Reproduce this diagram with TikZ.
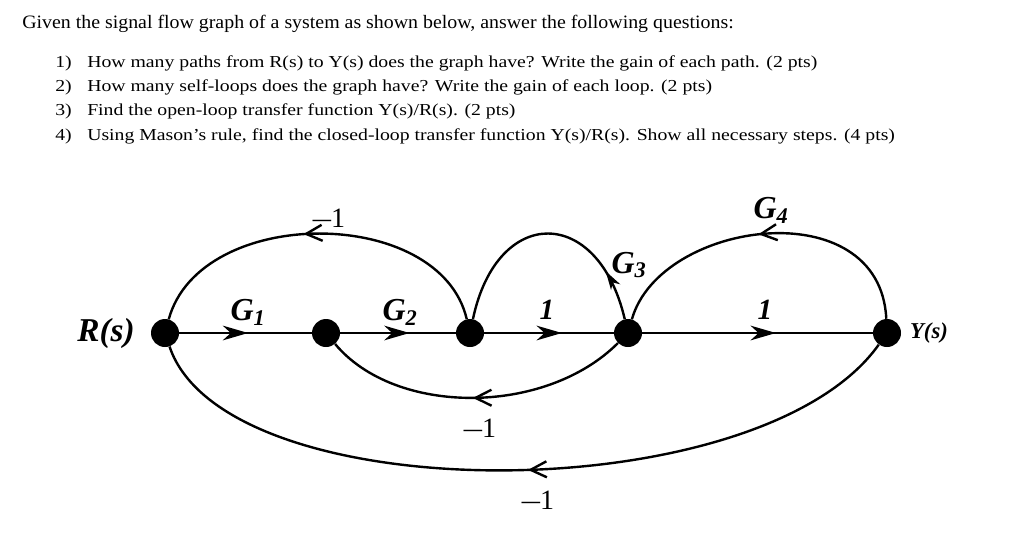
\documentclass[tikz,border=0pt]{standalone}
\usepackage{fontspec}
\setmainfont{Liberation Serif}
\newfontfamily\headfont[FakeStretch=1.05]{Liberation Serif}
\newfontfamily\qfont[FakeStretch=1.18]{Liberation Serif}
\usetikzlibrary{arrows.meta,decorations.markings}

\begin{document}
\begin{tikzpicture}[x=0.75pt,y=-0.75pt]
	\tikzstyle{vertex} = [circle, fill=black, minimum size=21pt, inner sep=0pt]
	\tikzstyle{branch} = [line width=1.8pt]
	\tikzstyle{gain} = [inner sep=0pt, font=\fontsize{24}{24}\selectfont\bfseries\itshape]
	\tikzstyle{unity} = [inner sep=0pt, font=\fontsize{22}{22}\selectfont\bfseries\itshape]
	\tikzstyle{neg} = [inner sep=0pt, font=\fontsize{21}{21}\selectfont]
	\tikzstyle{question} = [anchor=base west, inner sep=0pt, font=\qfont\fontsize{12.55}{14}\selectfont]
	\tikzset{
		flow/.style={branch, postaction={decorate}, decoration={markings,
			mark=at position #1 with {\arrow{Stealth[length=19pt,width=11pt,inset=6pt]}}}},
		back/.style={branch, postaction={decorate}, decoration={markings,
			mark=at position #1 with {\arrow[line width=1.8pt]{Straight Barb[length=12pt,width=12pt]}}}},
		feed/.style={branch, postaction={decorate}, decoration={markings,
			mark=at position #1 with {\arrow{Stealth[length=14pt,width=8pt,inset=4pt]}}}}
	}
	\useasboundingbox (0,0) rectangle (1021,543);

%----------Questions------------------------------
	\node[anchor=base west, inner sep=0pt, font=\headfont\fontsize{14.2}{16}\selectfont] (title) at (22,28)
		{Given the signal flow graph of a system as shown below, answer the following questions:};
	\node[question] (q1) at (55,67) {\makebox[24pt][l]{1)}How many paths from R(s) to Y(s) does the graph have? Write the gain of each path. (2 pts)};
	\node[question] (q2) at (55,91) {\makebox[24pt][l]{2)}How many self-loops does the graph have? Write the gain of each loop. (2 pts)};
	\node[question] (q3) at (55,115) {\makebox[24pt][l]{3)}Find the open-loop transfer function Y(s)/R(s). (2 pts)};
	\node[question] (q4) at (55,140) {\makebox[24pt][l]{4)}Using Mason’s rule, find the closed-loop transfer function Y(s)/R(s). Show all necessary steps. (4 pts)};

%----------Graph nodes------------------------------
	\node[vertex] (R) at (165,333) {};
	\node[vertex] (x1) at (326,333) {};
	\node[vertex] (x2) at (470,333) {};
	\node[vertex] (x3) at (628,333) {};
	\node[vertex] (Y) at (887,333) {};

	\node[inner sep=0pt, font=\fontsize{25}{25}\selectfont\bfseries\itshape] (lR) at (106,333) {R(s)};
	\node[inner sep=0pt, font=\fontsize{17}{17}\selectfont\bfseries\itshape] (lY) at (929,333) {Y(s)};

%----------Forward branches------------------------------
	\draw[flow=0.52] (R) -- (x1);
	\draw[flow=0.6] (x1) -- (x2);
	\draw[flow=0.6] (x2) -- (x3);
	\draw[flow=0.58] (x3) -- (Y);

	\node[gain] (g1) at (248,312) {G\textsubscript{1}};
	\node[gain] (g2) at (400,312) {G\textsubscript{2}};
	\node[unity] (u1) at (547,310) {1};
	\node[unity] (u2) at (765,310) {1};

%----------Feedback branches------------------------------
	\draw[back=0.54] (x2) .. controls (440,205) and (200,205) .. (R);
	\draw[feed=0.21] (x3) .. controls (598,205) and (497,205) .. (x2);
	\draw[back=0.52] (Y) .. controls (880,190) and (660,220) .. (x3);
	\draw[back=0.51] (x3) .. controls (545,416) and (395,416) .. (x1);
	\draw[back=0.49] (Y) .. controls (760,512) and (225,512) .. (R);

	\node[neg] (n1) at (329,218) {\scalebox{1.3}[1]{–}1};
	\node[gain] (g3) at (629,265) {G\textsubscript{3}};
	\node[gain] (g4) at (771,210) {G\textsubscript{4}};
	\node[neg] (n2) at (480,428) {\scalebox{1.3}[1]{–}1};
	\node[neg] (n3) at (538,500) {\scalebox{1.3}[1]{–}1};

\end{tikzpicture}
\end{document}
